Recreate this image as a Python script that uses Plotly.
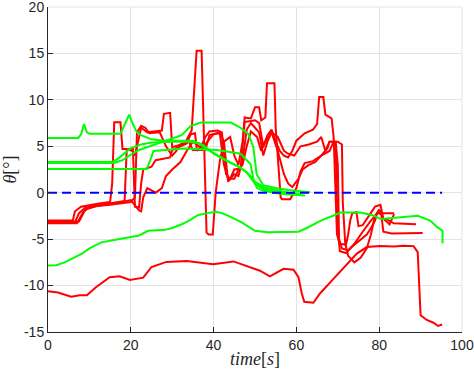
import plotly.graph_objects as go

# ---------------- data ----------------
x_ticks = [0, 20, 40, 60, 80, 100]
x_tick_labels = ["0", "20", "40", "60", "80", "100"]
y_ticks = [-15, -10, -5, 0, 5, 10, 15, 20]
y_tick_labels = ["-15", "-10", "-5", "0", "5", "10", "15", "20"]

# red trajectories
r1_x = [0, 6, 6.5, 8, 12, 15, 15.5, 16, 17.5, 18, 19, 20.5, 21, 22.5, 24, 26.5, 27.5, 28, 29.5, 30, 33, 34.7, 35.9, 37.1, 38.3,
        38.8, 39.8, 40.5, 41.5, 42.5, 44, 45, 46, 47, 47.5, 49, 50, 51, 51.5, 52.5, 52.9, 54.7, 55, 56.2, 56.5, 58.5, 60, 61,
        62, 64, 66, 67.5, 68, 69, 69.5, 70, 70.5, 72, 74, 76, 78, 80, 80.5, 83.6]
r1_y = [-3.0, -3.0, -2.0, -1.5, -1.2, -1.0, 1.0, 7.6, 7.6, 4.7, 4.7, 4.5, 4.0, 7.0, 6.5, 6.6, 6.7, 8.5, 8.6, 4.9, 5.3, 6.7, 15.3, 15.3, -4.3,
        -4.5, -4.5, 0.0, 3.4, 5.5, 6.0, 4.0, 3.0, 5.5, 8.1, 8.0, 9.2, 9.2, 7.8, 8.1, 11.8, 11.8, 7.0, -0.5, -0.7, -0.7, 0.5, 2.3,
        3.2, 3.4, 4.0, 4.8, 5.5, 5.5, 4.5, -4.0, -6.3, -6.5, -5.5, -4.2, -3.0, -2.0, -2.2, -2.2]

r2_x = [0, 6.5, 7.5, 9, 13, 17, 18.5, 19, 19.5, 20.5, 21, 22, 22.5, 23, 25, 26, 29.5, 30, 32, 33.5, 34.5, 35.5, 36, 37, 38, 39, 41,
        42, 43, 44, 45, 46.5, 47, 47.5, 50, 51, 52, 53, 54, 55, 56, 57, 58, 59, 60, 62, 64, 65, 65.5, 66.5, 67, 68.5, 69, 69.5,
        69.8, 70.5, 72, 72.5, 73, 73.5, 74.5, 75, 76, 77.5, 79, 80.3, 81, 82, 83.5, 88.9]
r2_y = [-3.2, -3.2, -2.2, -1.6, -1.3, -1.0, -0.9, 4.5, 4.7, 4.8, -1.5, -1.6, 1.0, 2.5, 2.8, 3.5, 3.8, 4.6, 5.0, 5.3, 6.3, 6.4, 4.5, 5.0,
        6.0, 6.6, 6.7, 6.5, 2.0, 1.5, 2.5, 2.6, 5.0, 7.6, 7.8, 7.5, 5.0, 6.2, 6.8, 5.5, 4.5, 4.0, 3.8, 4.5, 5.6, 6.4, 6.8, 7.4,
        10.3, 10.3, 8.4, 8.0, 6.0, -1.0, -4.5, -5.5, -5.6, -4.5, -3.0, -2.2, -2.1, -3.6, -3.5, -2.5, -1.5, -1.3, -2.8, -2.9,
        -3.3, -3.4]

r3_x = [0, 7, 8.5, 10, 15, 18, 20, 21, 21.5, 22.5, 23.5, 24.5, 27, 28.5, 30, 31, 32, 34, 35, 38, 39, 41.5, 42.5, 43.5, 45, 46,
        47, 48, 49, 50, 51, 52, 53, 54, 55.5, 57, 58, 59.5, 61, 63, 65, 66, 67, 68, 69.5, 70, 70.3, 71, 72.5, 73.5, 75, 77, 78,
        79, 79.5, 80.5, 81, 83, 90.5]
r3_y = [-3.3, -3.3, -2.1, -1.5, -1.3, -1.1, -1.0, -0.5, 6.5, 7.2, 7.0, 6.4, 6.5, 5.0, 4.0, 4.5, 5.2, 5.5, 4.6, 4.6, 6.2, 6.5, 5.5,
        1.2, 2.0, 1.8, 3.5, 6.8, 7.5, 7.0, 6.5, 4.0, 5.5, 6.5, 6.0, 4.5, 4.2, 4.0, 5.0, 5.2, 5.5, 6.0, 4.5, 5.5, 5.5, 3.0, -5.0,
        -6.0, -6.2, -5.8, -5.2, -4.5, -3.8, -3.0, -2.2, -2.3, -4.2, -4.4, -4.35]

r4_x = [0, 7.5, 9, 12, 18, 20, 22, 22.5, 23, 24, 26, 27.5, 28.5, 30, 32, 33.5, 35, 36.5, 37.5, 38.5, 40, 41.5, 42.5, 43.5, 45,
        46, 47, 48, 49, 50.5, 51.5, 52.5, 54, 55.5, 57, 58, 59, 60.5, 61.5, 63, 64.5, 66, 68, 69, 70, 71, 71.2, 71.8, 72.5, 74,
        75.5, 77, 78, 79, 80, 81, 82.5, 83.6]
r4_y = [-3.1, -3.1, -1.8, -1.4, -1.0, -0.8, -1.9, -2.0, -0.5, 0.5, 0.0, 0.5, 1.8, 2.5, 3.3, 4.5, 5.5, 5.0, 4.8, 5.5, 6.3, 6.4, 3.0,
        1.5, 1.5, 2.5, 3.0, 5.0, 6.6, 6.0, 4.5, 5.5, 6.5, 4.5, 2.0, 1.0, 0.6, 1.5, 2.5, 3.0, 3.3, 4.0, 4.5, 5.5, 5.5, 5.2, -1.0,
        -5.5, -6.8, -7.5, -7.0, -6.0, -4.5, -2.5, -1.8, -2.8, -3.4, -2.3]

r5_x = [0, 2.4, 5.6, 7.7, 9.4, 11.5, 14.9, 17.3, 19.8, 23, 25, 27, 28.6, 33.5, 36.7, 39.9, 44.8, 48, 51.2, 53.6, 56.9, 59.3, 60.5,
        61.3, 61.9, 64.1, 65.7, 69, 72.2, 74.6, 77, 80.2, 83.5, 85.9, 88.3, 89.3, 90.0, 91.5, 93.1, 94.2, 95.2]
r5_y = [-10.6, -10.75, -11.2, -11.05, -11.05, -10.2, -9.1, -9.0, -9.4, -9.15, -8.0, -7.65, -7.45, -7.35, -7.5, -7.7, -7.4, -7.9, -8.4,
        -9.0, -8.2, -8.3, -9.1, -10.85, -11.75, -11.85, -10.85, -9.25, -7.65, -6.55, -5.85, -5.75, -5.8, -5.7, -5.75, -6.4, -13.2,
        -13.7, -14.0, -14.35, -14.2]

# green trajectories
g1_x = [0, 7.3, 8.0, 8.7, 9.4, 10, 17.5, 18.5, 19.6, 20.5, 21.5, 22.5, 25, 28, 32, 35, 37.6, 40, 43.2, 46.5, 48.5, 50, 52, 55, 58, 61]
g1_y = [5.9, 5.9, 6.3, 7.4, 6.5, 6.35, 6.35, 7.3, 8.4, 7.4, 6.5, 6.2, 5.75, 5.6, 5.6, 5.6, 5.1, 4.2, 3.4, 2.7, 2.0, 1.2, 0.6, 0.3, 0.0, -0.1]

g2_x = [0, 15.5, 17, 18.5, 20, 22.5, 25, 30, 34, 36.5, 38, 40, 43, 46, 48, 50, 52, 55, 57]
g2_y = [3.3, 3.3, 3.7, 4.3, 4.8, 5.2, 5.4, 5.5, 5.5, 5.3, 4.8, 4.3, 3.5, 2.8, 2.2, 1.0, 0.4, 0.1, -0.05]

g3_x = [0, 16, 18, 19.3, 22, 26.6, 30, 32.3, 34.5, 37, 44.2, 46.5, 48.4, 49.6, 50.4, 52, 55, 58, 63.3]
g3_y = [3.2, 3.2, 3.5, 3.9, 4.6, 5.3, 5.8, 6.2, 7.2, 7.55, 7.55, 7.0, 6.3, 4.9, 2.0, 0.8, 0.5, 0.3, 0.05]

g4_x = [0, 23.9, 25.5, 28, 32.8, 40.8, 46.5, 48.9, 49.7, 50.5, 52, 56, 60, 62.1]
g4_y = [2.55, 2.55, 4.5, 4.6, 4.75, 4.6, 4.2, 3.1, 1.3, 0.5, 0.2, -0.1, -0.25, -0.3]

g5_x = [0, 2, 4, 6, 8.1, 10, 11.3, 12.9, 16, 20.2, 22, 24.2, 28.2, 30, 32.3, 34.5, 36.3, 38.5, 40.4, 42, 43.6, 46.8, 48.5, 50, 53,
        56.5, 60.5, 62.5, 65.9, 69, 70.7, 75.5, 78.6, 80.4, 84.4, 89.3, 92.3, 94.1, 95.3, 95.3]
g5_y = [-7.85, -7.8, -7.5, -7.1, -6.6, -6.0, -5.7, -5.35, -5.1, -4.8, -4.6, -4.1, -4.0, -3.8, -3.4, -2.9, -2.4, -2.2, -2.05, -2.2,
        -2.5, -3.2, -3.7, -4.1, -4.25, -4.2, -4.2, -3.8, -3.0, -2.45, -2.13, -2.13, -2.45, -2.84, -2.66, -2.48, -3.0, -3.74, -4.1,
        -5.45]

# reference (zero) line
ref_x = [0, 95.2]
ref_y = [0, 0]

RED = "#ff0000"
GREEN = "#00ff00"
BLUE = "#0000ff"

fig = go.Figure()
for xs, ys in [(r1_x, r1_y), (r2_x, r2_y), (r3_x, r3_y), (r4_x, r4_y), (r5_x, r5_y)]:
    fig.add_trace(go.Scatter(x=xs, y=ys, mode="lines", line=dict(color=RED, width=2), showlegend=False, hoverinfo="skip"))
for xs, ys in [(g1_x, g1_y), (g2_x, g2_y), (g3_x, g3_y), (g4_x, g4_y), (g5_x, g5_y)]:
    fig.add_trace(go.Scatter(x=xs, y=ys, mode="lines", line=dict(color=GREEN, width=2), showlegend=False, hoverinfo="skip"))
fig.add_trace(go.Scatter(x=ref_x, y=ref_y, mode="lines", line=dict(color=BLUE, width=2, dash="9px,5px"),
                         showlegend=False, hoverinfo="skip"))

axis_common = dict(
    showgrid=True, gridcolor="#e3e3e3", gridwidth=1,
    zeroline=False, showline=True, linecolor="#262626", linewidth=1,
    ticks="inside", ticklen=5, tickcolor="#262626",
    ticklabeloverflow="allow",
    tickfont=dict(family="Liberation Sans, Arial, sans-serif", size=14, color="#262626"),
)

fig.update_layout(
    width=474, height=375,
    margin=dict(l=48, r=12, t=7, b=43, autoexpand=False),
    paper_bgcolor="white", plot_bgcolor="white",
    showlegend=False,
    xaxis=dict(range=[0, 100], tickvals=x_ticks, ticktext=x_tick_labels,
               title=dict(text="<i>time</i>[<i>s</i>]", standoff=0,
                          font=dict(family="Liberation Serif, Times New Roman, serif", size=18, color="#262626")),
               **axis_common),
    yaxis=dict(range=[-15, 20], tickvals=y_ticks, ticktext=y_tick_labels,
               title=dict(text="<i>θ</i>[°]", standoff=4,
                          font=dict(family="Liberation Serif, Times New Roman, serif", size=18, color="#262626")),
               **axis_common),
    shapes=[
        dict(type="line", xref="paper", yref="paper", x0=0, x1=1, y0=1, y1=1,
             line=dict(color="#e3e3e3", width=1), layer="below"),
        dict(type="line", xref="paper", yref="paper", x0=1, x1=1, y0=0, y1=1,
             line=dict(color="#e3e3e3", width=1), layer="below"),
    ],
)

fig.write_html("out.html",
               config={"displayModeBar": False},
               post_script="document.body.style.margin='0px';document.body.style.overflow='hidden';")
